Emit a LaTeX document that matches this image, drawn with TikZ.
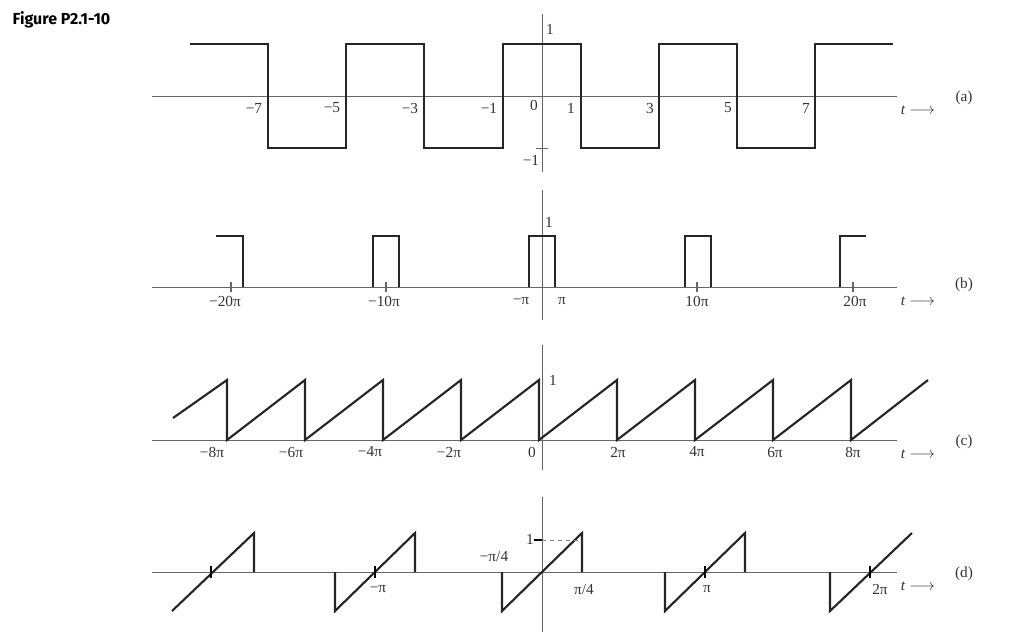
\documentclass[tikz,border=0pt]{standalone}
\usepackage{fontspec}
\setmainfont{Liberation Serif}
\newfontfamily\titlefont{Fira Sans}
\begin{document}
\begin{tikzpicture}[x=0.75pt,y=-0.75pt,
  ax/.style={gray!80!black,line width=0.5pt},
  wave/.style={line width=1.6pt,black!85,line join=miter},
  lab/.style={font=\fontsize{11.5}{13}\selectfont,inner sep=1pt,text=black!80}]
\useasboundingbox (0,0) rectangle (1024,633);
\node[anchor=west,font=\titlefont\bfseries\large] (title) at (8,20) {Figure P2.1-10};
% (a)
\draw[ax] (152,96) -- (897,96);
\draw[ax] (542,14) -- (542,172);
\draw[wave] (190,44) -- (268,44) -- (268,148) -- (346,148) -- (346,44) -- (424,44) -- (424,148) -- (503,148) -- (503,44) -- (581,44) -- (581,148) -- (659,148) -- (659,44) -- (737,44) -- (737,148) -- (815,148) -- (815,44) -- (893,44);
\draw[ax] (536,148) -- (548,148);
\foreach \x/\t in {254/−7,332/−5,410/−3,489/−1,571/1,650/3,728/5,806/7}
  \node[lab] at (\x,108) {\t};
\node[lab] (a0) at (534,105) {0};
\node[lab] (a1) at (550,29) {1};
\node[lab] (am1) at (531,160) {−1};
\node[lab] (ta) at (918,110) {\textit{t} $\longrightarrow$};
\node[lab] (la) at (964,98) {(a)};
% (b)
\draw[ax] (152,287) -- (897,287);
\draw[ax] (542,190) -- (542,320);
\draw[wave] (216,236) -- (243,236) -- (243,287);
\foreach \c in {386,542,698}
  \draw[wave] (\c-13,287) -- (\c-13,236) -- (\c+13,236) -- (\c+13,287);
\draw[wave] (840,287) -- (840,236) -- (866,236);
\foreach \x in {231,386,697,853} \draw[ax,line width=0.9pt] (\x,282) -- (\x,292);
\foreach \x/\t in {225/−20π,384/−10π,521/−π,562/π,697/10π,855/20π}
  \node[lab] at (\x,301) {\t};
\node[lab] (b1) at (549,222) {1};
\node[lab] (tb) at (918,301) {\textit{t} $\longrightarrow$};
\node[lab] (lb) at (964,285) {(b)};
% (c)
\draw[ax] (152,440) -- (897,440);
\draw[ax] (542,345) -- (542,470);
\draw[wave] (173,418) -- (227,380) -- (227,440)
  \foreach \k in {1,...,8} { -- ++(78,-60) -- ++(0,60) } -- ++(77,-60);
\foreach \x/\t in {212/−8π,291/−6π,370/−4π,449/−2π,532/0,618/2π,697/4π,775/6π,853/8π}
  \node[lab] at (\x,452) {\t};
\node[lab] (c1) at (553,380) {1};
\node[lab] (tc) at (918,454) {\textit{t} $\longrightarrow$};
\node[lab] (lc) at (964,442) {(c)};
% (d)
\draw[ax] (152,572) -- (897,572);
\draw[ax] (542,497) -- (542,632);
\draw[wave] (172,611) -- (254,533) -- (254,572);
\foreach \c in {375,542,705}
  \draw[wave] (\c-40,572) -- (\c-40,611) -- (\c+40,533) -- (\c+40,572);
\draw[wave] (830,572) -- (830,611) -- (912,533);
\foreach \x in {211,375,705,870} \draw[line width=1pt] (\x,566) -- (\x,578);
\draw[line width=1pt] (534,540) -- (542,540);
\draw[dashed,gray,line width=0.5pt] (542,540) -- (582,540);
\node[lab] (dm) at (378,589) {−π};
\node[lab] (dp) at (707,589) {π};
\node[lab] (d2) at (880,589) {2π};
\node[lab] (dq) at (494,557) {−π/4};
\node[lab] (dq2) at (584,590) {π/4};
\node[lab] (d1) at (530,539) {1};
\node[lab] (td) at (918,586) {\textit{t} $\longrightarrow$};
\node[lab] (ld) at (964,574) {(d)};
\end{tikzpicture}
\end{document}
